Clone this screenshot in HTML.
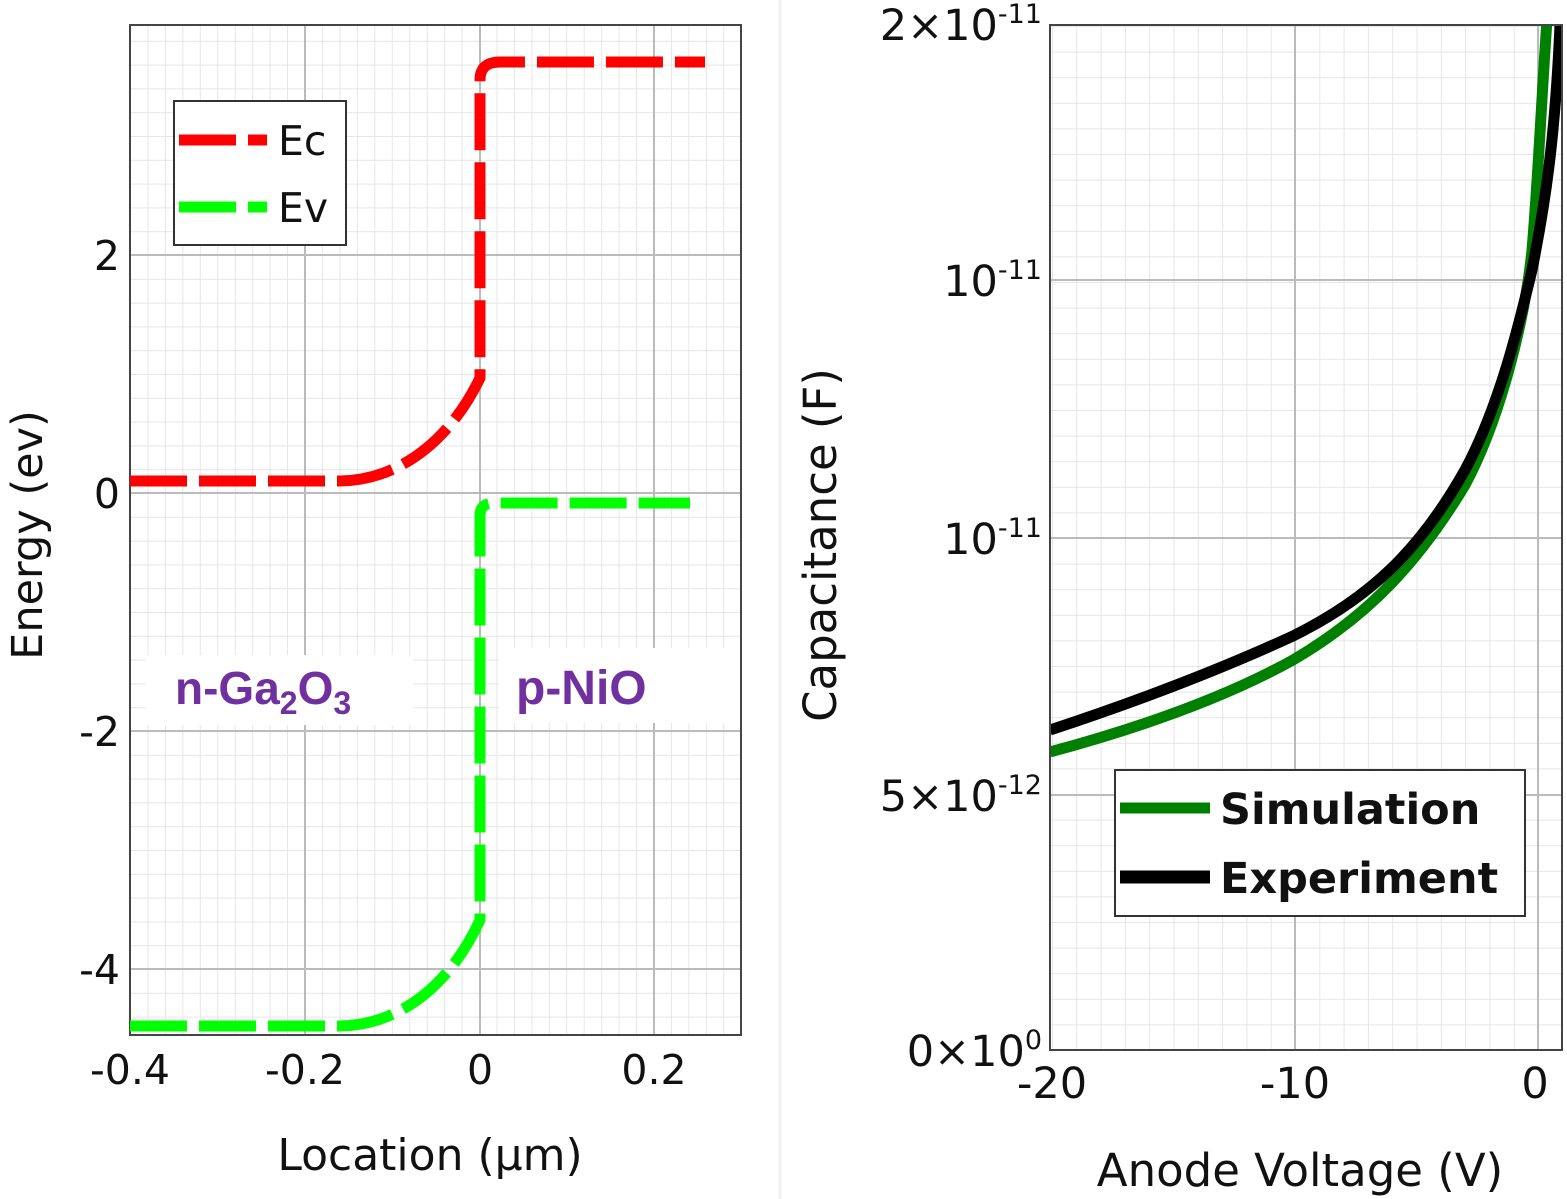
<!DOCTYPE html>
<html><head><meta charset="utf-8"><style>
html,body{margin:0;padding:0;background:#fff}
svg{display:block}
text{font-family:"DejaVu Sans","Liberation Sans",sans-serif;fill:#111}
</style></head><body>
<svg width="1567" height="1199" viewBox="0 0 1567 1199" xmlns="http://www.w3.org/2000/svg">
<defs>
<pattern id="gl" patternUnits="userSpaceOnUse" x="130" y="493" width="17.45" height="23.8">
<path d="M0,0V23.8M0,0H17.45" stroke="#e6e6e6" stroke-width="2" fill="none"/></pattern>
<pattern id="gr" patternUnits="userSpaceOnUse" x="1052" y="1050" width="24.3" height="25.6">
<path d="M0,0V25.6M0,0H24.3" stroke="#e6e6e6" stroke-width="2" fill="none"/></pattern>
<clipPath id="cr"><rect x="1050" y="25" width="512" height="1025"/></clipPath>
</defs>
<line x1="780" y1="0" x2="780" y2="1199" stroke="#f2f2f2" stroke-width="3"/>
<!-- LEFT -->
<rect x="130" y="25" width="611" height="1010" fill="url(#gl)"/>
<g stroke="#bbb" stroke-width="2">
<line x1="305" y1="25" x2="305" y2="1035"/><line x1="480" y1="25" x2="480" y2="1035"/><line x1="654" y1="25" x2="654" y2="1035"/>
<line x1="130" y1="255" x2="741" y2="255"/><line x1="130" y1="493" x2="741" y2="493"/><line x1="130" y1="731" x2="741" y2="731"/><line x1="130" y1="969" x2="741" y2="969"/>
</g>
<rect x="146" y="655" width="267" height="70" fill="#fff"/>
<rect x="499" y="648" width="246" height="75" fill="#fff"/>
<rect x="130" y="25" width="611" height="1010" fill="none" stroke="#444" stroke-width="2"/>
<path d="M130,481 H340 C400,480 450,440 480,378 V80 Q480,62 500,62 H705" fill="none" stroke="#f00" stroke-width="11" stroke-dasharray="57 12"/>
<path d="M130,1026 H340 C400,1025 450,985 480,920 V515 Q480,503 495,503 H690" fill="none" stroke="#0f0" stroke-width="11" stroke-dasharray="57 12"/>
<rect x="174" y="101" width="172" height="144" fill="#fff" stroke="#333" stroke-width="2"/>
<path d="M179,140H267" stroke="#f00" stroke-width="11" stroke-dasharray="57 12"/>
<path d="M179,207H267" stroke="#0f0" stroke-width="11" stroke-dasharray="57 12"/>
<text x="278" y="155" font-size="41">Ec</text>
<text x="278" y="222" font-size="41">Ev</text>
<text x="175" y="704" font-size="46" font-weight="bold" style="fill:#7030a0;font-family:'Liberation Sans',sans-serif">n-Ga<tspan font-size="32" dy="10">2</tspan><tspan dy="-10">O</tspan><tspan font-size="32" dy="10">3</tspan></text>
<text x="516" y="704" font-size="48" font-weight="bold" style="fill:#7030a0;font-family:'Liberation Sans',sans-serif">p-NiO</text>
<g font-size="41" text-anchor="end">
<text x="120" y="270">2</text><text x="120" y="508">0</text><text x="120" y="746">-2</text><text x="120" y="984">-4</text>
</g>
<g font-size="41" text-anchor="middle">
<text x="130" y="1084">-0.4</text><text x="305" y="1084">-0.2</text><text x="480" y="1084">0</text><text x="654" y="1084">0.2</text>
<text x="430" y="1170" font-size="44">Location (µm)</text>
</g>
<text transform="translate(42,535) rotate(-90)" font-size="43" text-anchor="middle">Energy (ev)</text>
<!-- RIGHT -->
<rect x="1050" y="25" width="512" height="1025" fill="url(#gr)"/>
<g stroke="#bbb" stroke-width="2">
<line x1="1295" y1="25" x2="1295" y2="1050"/><line x1="1538" y1="25" x2="1538" y2="1050"/>
<line x1="1050" y1="280" x2="1562" y2="280"/><line x1="1050" y1="538" x2="1562" y2="538"/><line x1="1050" y1="795" x2="1562" y2="795"/>
</g>
<g clip-path="url(#cr)" fill="none" stroke-width="11" stroke-linejoin="round">
<path stroke="#008000" d="M1050,752 C1150,725 1230,695 1293,660 C1370,615 1420,560 1465,485 C1500,420 1525,320 1532,250 C1538,180 1542,90 1547,20"/>
<path stroke="#000" d="M1050,730 C1150,697 1230,665 1293,636 C1370,598 1420,550 1465,470 C1500,405 1520,320 1532,270 C1545,205 1555,140 1560,25"/>
</g>
<rect x="1050" y="25" width="512" height="1025" fill="none" stroke="#444" stroke-width="2"/>
<rect x="1115" y="770" width="410" height="146" fill="#fff" stroke="#333" stroke-width="2"/>
<line x1="1120" y1="808" x2="1210" y2="808" stroke="#008000" stroke-width="11"/>
<line x1="1120" y1="877" x2="1210" y2="877" stroke="#000" stroke-width="13"/>
<text x="1220" y="824" font-size="43" font-weight="bold">Simulation</text>
<text x="1220" y="893" font-size="43" font-weight="bold">Experiment</text>
<g font-size="43" text-anchor="end">
<text x="1042" y="40">2×10<tspan font-size="27" dy="-17">-11</tspan></text>
<text x="1042" y="296">10<tspan font-size="27" dy="-17">-11</tspan></text>
<text x="1042" y="554">10<tspan font-size="27" dy="-17">-11</tspan></text>
<text x="1042" y="811">5×10<tspan font-size="27" dy="-17">-12</tspan></text>
<text x="1042" y="1066">0×10<tspan font-size="27" dy="-17">0</tspan></text>
</g>
<g font-size="43" text-anchor="middle">
<text x="1052" y="1098">-20</text><text x="1295" y="1098">-10</text><text x="1535" y="1098">0</text>
<text x="1300" y="1186" font-size="45">Anode Voltage (V)</text>
</g>
<text transform="translate(836,545) rotate(-90)" font-size="45" text-anchor="middle">Capacitance (F)</text>
</svg>
</body></html>
